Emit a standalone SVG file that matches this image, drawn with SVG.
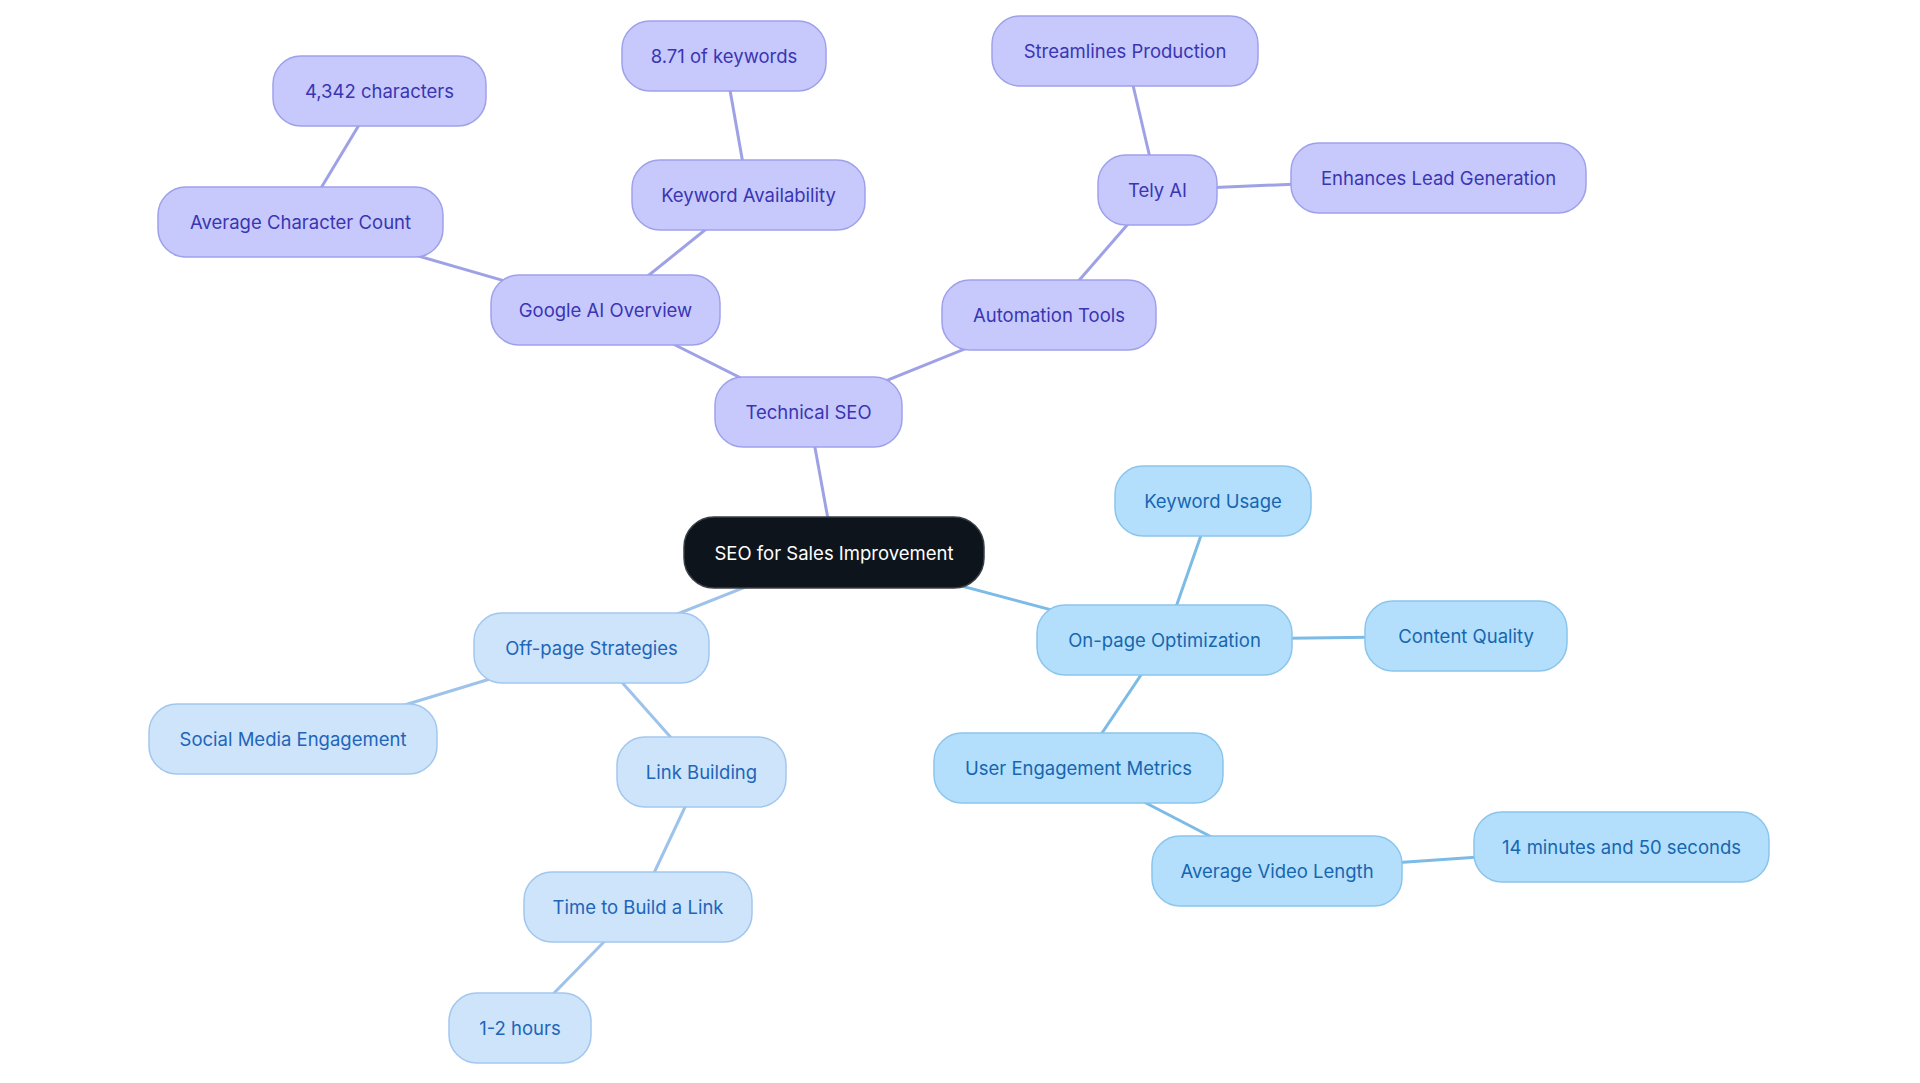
<svg xmlns="http://www.w3.org/2000/svg" width="1920" height="1083" viewBox="0 0 1920 1083">
<style>
text{font-family:Inter,"Noto Sans","Liberation Sans",sans-serif;font-size:18.5px;text-anchor:middle;dominant-baseline:central}
.root rect{fill:#0d141b;stroke:#3a3f46;stroke-width:1.5}
.root text{fill:#ffffff}
.tech rect{fill:#c7c9fc;stroke:#9ea1ea;stroke-width:1.5}
.tech text{fill:#3a35b2}
.on rect{fill:#b3dffc;stroke:#8bc5ec;stroke-width:1.5}
.on text{fill:#1766b0}
.off rect{fill:#cde4fb;stroke:#a2c7ee;stroke-width:1.5}
.off text{fill:#1f65b9}
.e-tech{stroke:#9ea1e6;stroke-width:3;fill:none}
.e-on{stroke:#7cbbe6;stroke-width:3;fill:none}
.e-off{stroke:#9dc3ea;stroke-width:3;fill:none}
</style>
<rect width="1920" height="1083" fill="#ffffff"/>
<g id="connectors">
<line class="e-tech" x1="834" y1="552" x2="808.5" y2="412"/>
<line class="e-tech" x1="808.5" y1="412" x2="605.5" y2="310"/>
<line class="e-tech" x1="605.5" y1="310" x2="300.5" y2="222"/>
<line class="e-tech" x1="300.5" y1="222" x2="379.5" y2="91"/>
<line class="e-tech" x1="605.5" y1="310" x2="748.5" y2="195"/>
<line class="e-tech" x1="748.5" y1="195" x2="724" y2="56"/>
<line class="e-tech" x1="808.5" y1="412" x2="1049" y2="315"/>
<line class="e-tech" x1="1049" y1="315" x2="1157.5" y2="190"/>
<line class="e-tech" x1="1157.5" y1="190" x2="1125" y2="51"/>
<line class="e-tech" x1="1157.5" y1="190" x2="1438.5" y2="178"/>
<line class="e-on" x1="834" y1="552" x2="1164.5" y2="640"/>
<line class="e-on" x1="1164.5" y1="640" x2="1213" y2="501"/>
<line class="e-on" x1="1164.5" y1="640" x2="1466" y2="636"/>
<line class="e-on" x1="1164.5" y1="640" x2="1078.5" y2="768"/>
<line class="e-on" x1="1078.5" y1="768" x2="1277" y2="871"/>
<line class="e-on" x1="1277" y1="871" x2="1621.5" y2="847"/>
<line class="e-off" x1="834" y1="552" x2="591.5" y2="648"/>
<line class="e-off" x1="591.5" y1="648" x2="293" y2="739"/>
<line class="e-off" x1="591.5" y1="648" x2="701.5" y2="772"/>
<line class="e-off" x1="701.5" y1="772" x2="638" y2="907"/>
<line class="e-off" x1="638" y1="907" x2="520" y2="1028"/>
</g>
<g id="n-root" class="root"><rect x="684" y="517" width="300" height="71" rx="30"/><text x="834" y="552.5">SEO for Sales Improvement</text></g>
<g id="n-tech" class="tech"><rect x="715" y="377" width="187" height="70" rx="28"/><text x="808.5" y="412">Technical SEO</text></g>
<g id="n-google" class="tech"><rect x="491" y="275" width="229" height="70" rx="28"/><text x="605.5" y="310">Google AI Overview</text></g>
<g id="n-avgchar" class="tech"><rect x="158" y="187" width="285" height="70" rx="28"/><text x="300.5" y="222">Average Character Count</text></g>
<g id="n-4342" class="tech"><rect x="273" y="56" width="213" height="70" rx="28"/><text x="379.5" y="91">4,342 characters</text></g>
<g id="n-kwavail" class="tech"><rect x="632" y="160" width="233" height="70" rx="28"/><text x="748.5" y="195">Keyword Availability</text></g>
<g id="n-871" class="tech"><rect x="622" y="21" width="204" height="70" rx="28"/><text x="724" y="56">8.71 of keywords</text></g>
<g id="n-auto" class="tech"><rect x="942" y="280" width="214" height="70" rx="28"/><text x="1049" y="315">Automation Tools</text></g>
<g id="n-tely" class="tech"><rect x="1098" y="155" width="119" height="70" rx="28"/><text x="1157.5" y="190">Tely AI</text></g>
<g id="n-stream" class="tech"><rect x="992" y="16" width="266" height="70" rx="28"/><text x="1125" y="51">Streamlines Production</text></g>
<g id="n-lead" class="tech"><rect x="1291" y="143" width="295" height="70" rx="28"/><text x="1438.5" y="178">Enhances Lead Generation</text></g>
<g id="n-onpage" class="on"><rect x="1037" y="605" width="255" height="70" rx="28"/><text x="1164.5" y="640">On-page Optimization</text></g>
<g id="n-kwusage" class="on"><rect x="1115" y="466" width="196" height="70" rx="28"/><text x="1213" y="501">Keyword Usage</text></g>
<g id="n-content" class="on"><rect x="1365" y="601" width="202" height="70" rx="28"/><text x="1466" y="636">Content Quality</text></g>
<g id="n-uem" class="on"><rect x="934" y="733" width="289" height="70" rx="28"/><text x="1078.5" y="768">User Engagement Metrics</text></g>
<g id="n-avl" class="on"><rect x="1152" y="836" width="250" height="70" rx="28"/><text x="1277" y="871">Average Video Length</text></g>
<g id="n-14min" class="on"><rect x="1474" y="812" width="295" height="70" rx="28"/><text x="1621.5" y="847">14 minutes and 50 seconds</text></g>
<g id="n-offpage" class="off"><rect x="474" y="613" width="235" height="70" rx="28"/><text x="591.5" y="648">Off-page Strategies</text></g>
<g id="n-social" class="off"><rect x="149" y="704" width="288" height="70" rx="28"/><text x="293" y="739">Social Media Engagement</text></g>
<g id="n-link" class="off"><rect x="617" y="737" width="169" height="70" rx="28"/><text x="701.5" y="772">Link Building</text></g>
<g id="n-time" class="off"><rect x="524" y="872" width="228" height="70" rx="28"/><text x="638" y="907">Time to Build a Link</text></g>
<g id="n-12h" class="off"><rect x="449" y="993" width="142" height="70" rx="28"/><text x="520" y="1028">1-2 hours</text></g>
</svg>
